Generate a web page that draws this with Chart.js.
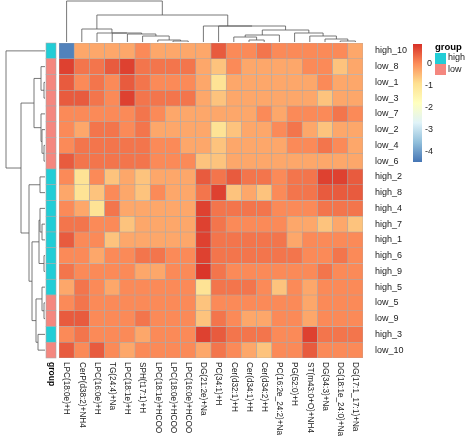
<!DOCTYPE html>
<html>
<head>
<meta charset="utf-8">
<script src="https://cdn.jsdelivr.net/npm/chart.js@4.4.0/dist/chart.umd.min.js"></script>
<style>
  html, body { margin: 0; padding: 0; background: #fff; }
  #wrap { width: 474px; height: 439px; }
</style>
</head>
<body>
<div id="wrap"><canvas id="heat" width="474" height="439"></canvas></div>
<script>
const columns = ['LPC(18:0e)+H', 'CerP(d38:2)+NH4', 'LPC(16:0e)+H', 'TG(24:4)+Na', 'LPC(18:1e)+H',
    'SPH(t17:1)+H', 'LPC(18:1e)+HCOO', 'LPC(18:0e)+HCOO', 'LPC(16:0e)+HCOO', 'DG(21:2e)+Na',
    'PC(34:1)+H', 'Cer(d32:1)+H', 'Cer(d34:1)+H', 'Cer(d34:2)+H', 'PC(16:2e_24:2)+Na',
    'PG(52:0)+H', 'ST(m43:0+O)+NH4', 'DG(34:3)+Na', 'DG(18:1e_24:0)+Na', 'DG(17:1_17:1)+Na'];
const rows = ['high_10', 'low_8', 'low_1', 'low_3', 'low_7', 'low_2', 'low_4', 'low_6', 'high_2', 'high_8',
    'high_4', 'high_7', 'high_1', 'high_6', 'high_9', 'high_5', 'low_5', 'low_9', 'high_3', 'low_10'];
const groups = ['high', 'low', 'low', 'low', 'low', 'low', 'low', 'low', 'high', 'high',
    'high', 'high', 'high', 'high', 'high', 'high', 'low', 'low', 'high', 'low'];
const colorTicks = [0, -1, -2, -3, -4];

// values (row by row)
const values = [
    [-4.3, -0.3, -0.3, -0.3, -0.3, 0, -0.3, -0.3, -0.3, -0.3, 0.45, 0, 0, 0.2, 0, 0, 0, 0, 0, -0.3],
    [0.7, 0.2, 0.2, 0.45, 0.7, 0.2, 0.2, 0.2, 0.2, -0.3, -0.6, 0, -0.3, -0.3, -0.3, -0.3, 0, 0, -0.6, -0.3],
    [0.45, 0, 0.2, 0, 0.45, 0.2, 0, 0, 0, -0.3, -1.0, -0.3, -0.3, -0.3, -0.3, -0.3, -0.3, 0, -0.3, -0.3],
    [0.45, 0.45, 0.2, 0, 0.7, 0.2, 0.2, 0.2, 0.2, -0.3, -0.6, -0.3, -0.3, -0.3, -0.3, -0.3, -0.3, -0.6, -0.3, -0.3],
    [0, 0, 0, 0, 0, 0.2, 0, -0.3, -0.3, -0.3, -0.3, -0.3, -0.3, 0, -0.3, 0, 0, 0, 0.2, 0],
    [0, -0.3, 0.2, 0.2, 0, 0.2, -0.3, -0.3, -0.3, -0.3, -1.0, -0.6, -0.3, -0.3, 0, 0.2, -0.3, -0.6, -0.3, -0.3],
    [0, 0.2, 0.2, 0.2, 0.2, 0.2, 0, 0, -0.3, -0.3, -0.6, -0.3, -0.3, -0.3, -0.3, 0, 0, 0.2, 0, -0.3],
    [0.45, 0.2, 0.2, 0.2, 0.2, 0.2, 0, 0, 0, -0.6, -0.6, -0.3, -0.3, -0.3, -0.3, -0.3, -0.3, -0.3, -0.3, -0.3],
    [0, -1.0, 0, -0.6, -0.3, -0.6, -0.3, -0.3, -0.3, 0.45, 0.2, 0.45, 0.2, 0.2, 0, 0.2, 0.2, 0.7, 0.7, 0.45],
    [-0.3, -1.0, -0.6, 0, -0.3, -0.6, 0, -0.3, -0.3, 0.2, 0.7, -0.6, -0.3, -0.6, 0, 0.2, 0.2, 0.45, 0.45, 0.45],
    [0, -0.3, -1.0, 0.2, -0.3, -0.3, -0.3, -0.3, -0.3, 0.7, 0.2, 0.2, 0.2, 0.2, 0, 0, 0, 0.2, 0.2, 0.2],
    [0.2, 0.2, 0, 0, -0.6, -0.3, -0.3, -0.3, -0.3, 0.7, 0.2, 0, 0, 0, 0, -0.3, -0.3, -0.6, -0.3, -0.6],
    [0.45, 0, 0, -0.6, -0.3, -0.3, -0.3, -0.3, -0.3, 0.7, 0.2, 0.2, 0.2, 0.2, 0.2, -0.3, 0, 0, 0, 0],
    [0, 0, -0.3, 0, 0, 0.2, 0.2, 0, 0, 0.7, 0.2, 0.2, 0.2, 0.2, 0.2, 0.2, 0, 0, 0.2, 0],
    [0.2, 0, 0, 0, 0, -0.3, -0.3, 0, 0, 0.8, 0.2, 0, 0, 0, 0, 0, 0, 0.2, 0, 0],
    [-0.3, 0.2, 0, -0.3, 0, 0, 0, 0, 0, -1.0, 0.2, 0.2, 0.2, 0, -0.6, 0, -0.3, 0, 0, 0],
    [0, 0.2, 0, 0, 0, 0, 0, 0, 0, -0.6, 0, 0, 0, 0, 0, 0, -0.3, 0, 0, 0],
    [0.45, 0.45, 0, 0, 0, 0.2, 0, 0, 0, -0.6, 0.2, 0, -0.3, -0.3, 0, 0, -0.3, 0, 0, 0],
    [0, 0.2, 0, 0, 0, -0.3, 0, 0, 0, 0.7, 0.45, 0.2, 0.2, 0.2, 0, 0, 0.7, 0.2, 0.2, 0.2],
    [0.45, 0, 0.45, 0, -0.3, 0, 0, 0, 0, -0.3, 0.2, 0, -0.3, -0.6, 0, 0, 0.45, 0, 0, 0]
];

// dendrograms: [left, right, height]; height in px distance from heatmap edge
const colTree = [0, [[1, [2, [3, [4, [5, [6, [7, 8, 1], 2], 6], 8], 9], 9], 13],
    [9, [10, [[[11, [12, 13, 2], 5], 14, 7], [15, [16, [17, [18, 19, 1], 3], 6], 9], 12], 16], 16], 27], 41];
const rowTree = [0, [[[1, [2, 3, 1], 4], [4, [5, [6, 7, 1], 3], 4], 11],
    [[8, 9, 5], [[[10, [11, 12, 3], 5], [13, 14, 1], 6], [[15, [16, 17, 1], 3], [18, 19, 7], 9], 13], 16], 24], 39];

const vmin = -4.45, vmax = 0.86;
const palette = ['#4575B4', '#91BFDB', '#E0F3F8', '#FFFFBF', '#FEE090', '#FC8D59', '#D73027'];
const groupColors = { high: '#22CDD6', low: '#F4877F' };

function hex(c) { return [1, 3, 5].map(i => parseInt(c.substr(i, 2), 16)); }
function colorFor(v) {
    let t = (v - vmin) / (vmax - vmin) * (palette.length - 1);
    t = Math.max(0, Math.min(palette.length - 1 - 1e-9, t));
    const i = Math.floor(t), f = t - i;
    const a = hex(palette[i]), b = hex(palette[i + 1]);
    return 'rgb(' + a.map((x, k) => Math.round(x + (b[k] - x) * f)).join(',') + ')';
}

const datasets = rows.map((r, ri) => ({
    label: r,
    data: columns.map(() => [ri, ri + 1]),
    backgroundColor: values[ri].map(colorFor),
    borderColor: '#A8A8A8',
    borderWidth: 0.6,
    borderSkipped: false,
    barPercentage: 1,
    categoryPercentage: 1,
    grouped: false
}));

function treeDraw(ctx, node, pos, offset) {
    if (typeof node === 'number') return { p: pos(node), h: 0 };
    const a = treeDraw(ctx, node[0], pos, offset);
    const b = treeDraw(ctx, node[1], pos, offset);
    const h = node[2];
    offset(a.p, a.h, b.p, b.h, h);
    return { p: (a.p + b.p) / 2, h: h };
}

const extras = {
    id: 'extras',
    afterDraw(chart) {
        const ctx = chart.ctx, xs = chart.scales.x, ys = chart.scales.y;
        const top = ys.getPixelForValue(0), left = xs.left;
        ctx.save();
        ctx.strokeStyle = '#555';
        ctx.lineWidth = 0.8;
        // column dendrogram
        const colPos = i => xs.getPixelForValue(i);
        treeDraw(ctx, colTree, colPos, (p1, h1, p2, h2, h) => {
            ctx.beginPath();
            ctx.moveTo(p1, top - 1 - h1); ctx.lineTo(p1, top - 1 - h);
            ctx.lineTo(p2, top - 1 - h); ctx.lineTo(p2, top - 1 - h2);
            ctx.stroke();
        });
        // row dendrogram
        const gx = left - 13;
        const rowPos = i => ys.getPixelForValue(i + 0.5);
        treeDraw(ctx, rowTree, rowPos, (p1, h1, p2, h2, h) => {
            ctx.beginPath();
            ctx.moveTo(gx - 1 - h1, p1); ctx.lineTo(gx - 1 - h, p1);
            ctx.lineTo(gx - 1 - h, p2); ctx.lineTo(gx - 1 - h2, p2);
            ctx.stroke();
        });
        // group annotation column
        rows.forEach((r, i) => {
            const y0 = ys.getPixelForValue(i), y1 = ys.getPixelForValue(i + 1);
            ctx.fillStyle = groupColors[groups[i]];
            ctx.fillRect(gx, y0, 10, y1 - y0);
            ctx.strokeStyle = '#A8A8A8';
            ctx.lineWidth = 0.6;
            ctx.strokeRect(gx, y0, 10, y1 - y0);
        });
        // column labels, reading top to bottom
        ctx.fillStyle = '#222';
        ctx.font = '8.2px "Liberation Sans"';
        ctx.textBaseline = 'middle';
        ctx.textAlign = 'left';
        columns.forEach((c, i) => {
            ctx.save();
            ctx.translate(xs.getPixelForValue(i), ys.bottom + 4);
            ctx.rotate(Math.PI / 2);
            ctx.fillText(c, 0, 0);
            ctx.restore();
        });
        ctx.fillStyle = '#000';
        ctx.font = 'bold 8.5px "Liberation Sans"';
        ctx.translate(gx + 5, ys.bottom + 4);
        ctx.rotate(Math.PI / 2);
        ctx.fillText('group', 0, 0);
        ctx.restore();

        // colour bar
        ctx.save();
        const bx = 413, by0 = 44, by1 = 162;
        const grad = ctx.createLinearGradient(0, by1, 0, by0);
        palette.forEach((c, i) => grad.addColorStop(i / (palette.length - 1), c));
        ctx.fillStyle = grad;
        ctx.fillRect(bx, by0, 9, by1 - by0);
        ctx.fillStyle = '#222';
        ctx.font = '9px "Liberation Sans"';
        ctx.textBaseline = 'middle';
        colorTicks.forEach(v => {
            const y = by1 - (v - vmin) / (vmax - vmin) * (by1 - by0);
            ctx.fillText(String(v), v < 0 ? 425 : 427, y);
        });
        // group legend
        ctx.font = 'bold 9.5px "Liberation Sans"';
        ctx.fillStyle = '#000';
        ctx.fillText('group', 435, 47);
        ctx.fillStyle = groupColors.high; ctx.fillRect(435, 53, 11, 11);
        ctx.fillStyle = groupColors.low; ctx.fillRect(435, 64, 11, 11);
        ctx.fillStyle = '#222';
        ctx.font = '9px "Liberation Sans"';
        ctx.fillText('high', 448, 58);
        ctx.fillText('low', 448, 70);
        ctx.restore();
    }
};

new Chart(document.getElementById('heat'), {
    type: 'bar',
    data: { labels: columns, datasets: datasets },
    options: {
        responsive: false,
        animation: false,
        layout: { padding: { left: 59, top: 43, right: 0, bottom: 0 } },
        plugins: { legend: { display: false }, tooltip: { enabled: false } },
        scales: {
            x: {
                grid: { display: false },
                border: { display: false },
                ticks: { display: false },
                afterFit(s) { s.height = 81; }
            },
            y: {
                type: 'linear', position: 'right', reverse: true, min: 0, max: 20,
                grid: { display: false },
                border: { display: false },
                afterBuildTicks(s) { s.ticks = rows.map((r, i) => ({ value: i + 0.5 })); },
                ticks: {
                    color: '#222', font: { family: 'Liberation Sans', size: 9 }, padding: 4,
                    callback: (v) => rows[Math.floor(v)]
                },
                afterFit(s) { s.width = 111; }
            }
        }
    },
    plugins: [extras]
});
</script>
</body>
</html>
